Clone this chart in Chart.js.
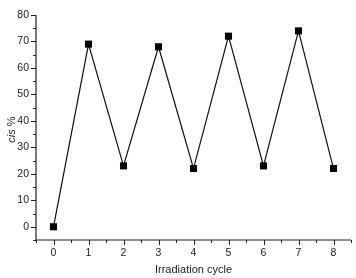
<!DOCTYPE html>
<html>
<head>
<meta charset="utf-8">
<script src="https://cdn.jsdelivr.net/npm/chart.js@4/dist/chart.umd.min.js"></script>
<style>
  html, body { margin: 0; padding: 0; background: #fff; }
  #wrap { width: 356px; height: 278px; }
</style>
</head>
<body>
<div id="wrap"><canvas id="c" width="356" height="278"></canvas></div>
<script>
// data
const cycles = [0, 1, 2, 3, 4, 5, 6, 7, 8];
const cisPercent = [0, 69, 23, 68, 22, 72, 23, 74, 22];
const xTicks = [0, 1, 2, 3, 4, 5, 6, 7, 8];
const yTicks = [0, 10, 20, 30, 40, 50, 60, 70, 80];

const axisColor = '#222';
const textFont = '"Liberation Sans", Arial, sans-serif';

// axis lines, major + minor ticks, and the two titles
const axesPlugin = {
  id: 'originAxes',
  afterDraw(chart) {
    const ctx = chart.ctx;
    const x = chart.scales.x, y = chart.scales.y;
    const area = chart.chartArea;
    ctx.save();
    ctx.strokeStyle = axisColor;
    ctx.lineWidth = 1.2;
    ctx.beginPath();
    ctx.moveTo(area.left, area.top);
    ctx.lineTo(area.left, area.bottom);
    ctx.lineTo(area.right, area.bottom);
    ctx.stroke();

    ctx.lineWidth = 1;
    ctx.beginPath();
    for (let v = -0.5; v <= 8.5; v += 0.5) {
      const px = Math.round(x.getPixelForValue(v)) + 0.5;
      const len = Number.isInteger(v) ? 5 : 3;
      ctx.moveTo(px, area.bottom);
      ctx.lineTo(px, area.bottom + len);
    }
    for (let v = -5; v <= 80; v += 5) {
      const py = Math.round(y.getPixelForValue(v)) + 0.5;
      const len = v % 10 === 0 ? 5 : 3;
      ctx.moveTo(area.left, py);
      ctx.lineTo(area.left - len, py);
    }
    ctx.stroke();

    // x title
    ctx.fillStyle = '#222';
    ctx.font = '11px ' + textFont;
    ctx.textAlign = 'center';
    ctx.textBaseline = 'alphabetic';
    ctx.fillText('Irradiation cycle', (area.left + area.right) / 2, 273);

    // y title: italic "cis" + " %"
    ctx.translate(15, (area.top + area.bottom) / 2 + 2);
    ctx.rotate(-Math.PI / 2);
    ctx.textAlign = 'left';
    ctx.font = 'italic 11px ' + textFont;
    const w1 = ctx.measureText('cis').width;
    ctx.font = '11px ' + textFont;
    const w2 = ctx.measureText(' %').width;
    const start = -(w1 + w2) / 2;
    ctx.font = 'italic 11px ' + textFont;
    ctx.fillText('cis', start, 0);
    ctx.font = '11px ' + textFont;
    ctx.fillText(' %', start + w1, 0);
    ctx.restore();
  }
};

new Chart(document.getElementById('c'), {
  type: 'line',
  data: {
    datasets: [{
      data: cycles.map((c, i) => ({ x: c, y: cisPercent[i] })),
      borderColor: '#111',
      borderWidth: 1.2,
      pointStyle: 'rect',
      pointRadius: 5,
      pointBackgroundColor: '#000',
      pointBorderColor: '#000',
      pointBorderWidth: 0,
      tension: 0,
      clip: false
    }]
  },
  options: {
    responsive: false,
    animation: false,
    layout: { padding: { top: 15, right: 5, left: 0, bottom: 0 } },
    plugins: { legend: { display: false }, tooltip: { enabled: false } },
    scales: {
      x: {
        type: 'linear',
        min: -0.5,
        max: 8.5,
        grid: { display: false, tickLength: 5 },
        border: { display: false },
        afterBuildTicks: s => { s.ticks = xTicks.map(v => ({ value: v })); },
        afterFit: s => { s.height = 38; },
        ticks: { color: '#222', font: { size: 10.5, family: textFont }, padding: 2, maxRotation: 0 }
      },
      y: {
        min: -5,
        max: 80,
        grid: { display: false, tickLength: 5 },
        border: { display: false },
        afterBuildTicks: s => { s.ticks = yTicks.map(v => ({ value: v })); },
        afterFit: s => { s.width = 36; },
        ticks: { color: '#222', font: { size: 10.5, family: textFont }, padding: 2 }
      }
    }
  },
  plugins: [axesPlugin]
});
</script>
</body>
</html>
